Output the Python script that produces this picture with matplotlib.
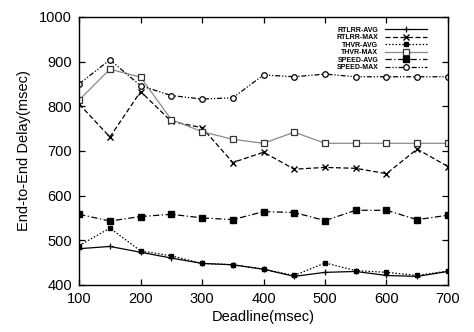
import matplotlib
matplotlib.use("Agg")
import matplotlib.pyplot as plt

plt.rcParams['font.family'] = ['Liberation Sans', 'DejaVu Sans']

deadline = [100, 150, 200, 250, 300, 350, 400, 450, 500, 550, 600, 650, 700]
rtlrr_avg = [481, 486, 473, 460, 448, 445, 435, 419, 428, 430, 421, 419, 430]
rtlrr_max = [805, 731, 833, 766, 752, 674, 697, 659, 663, 661, 649, 704, 665]
thvr_avg = [488, 527, 476, 465, 448, 445, 435, 421, 449, 432, 428, 421, 431]
thvr_max = [814, 883, 865, 770, 743, 726, 717, 742, 717, 717, 717, 717, 717]
speed_avg = [558, 543, 553, 558, 550, 546, 564, 562, 544, 567, 567, 546, 556]
speed_max = [850, 904, 846, 824, 816, 819, 870, 866, 872, 866, 866, 866, 866]

x_ticks = [100, 200, 300, 400, 500, 600, 700]
y_ticks = [400, 500, 600, 700, 800, 900, 1000]

fig = plt.figure(figsize=(4.74, 3.32), dpi=100)
ax = fig.add_axes([0.167, 0.142, 0.778, 0.807])

lw = 0.9
ax.plot(deadline, rtlrr_avg, color='black', ls='-', lw=lw, marker='+', ms=4.5, mew=0.9, label='RTLRR-AVG')
ax.plot(deadline, rtlrr_max, color='black', ls=(0, (4, 2)), lw=lw, marker='x', ms=4, mew=1.0, label='RTLRR-MAX')
ax.plot(deadline, thvr_avg, color='black', ls=(0, (1.2, 1.5)), lw=lw, marker='s', ms=3.2, mfc='black', label='THVR-AVG')
ax.plot(deadline, thvr_max, color='#8a8a8a', ls='-', lw=lw, marker='s', ms=4.3, mfc='white', mec='#333333', mew=0.9, label='THVR-MAX')
ax.plot(deadline, speed_avg, color='black', ls=(0, (5, 2, 1, 2)), lw=lw, marker='s', ms=4, mfc='black', label='SPEED-AVG')
ax.plot(deadline, speed_max, color='black', ls=(0, (4, 1.5, 1, 1.5, 1, 1.5)), lw=lw, marker='o', ms=4, mfc='white', mew=0.9, label='SPEED-MAX')

ax.set_xlim(100, 700)
ax.set_ylim(400, 1000)
ax.set_xticks(x_ticks)
ax.set_yticks(y_ticks)
ax.tick_params(direction='in', top=True, right=True, length=4, width=0.9, labelsize=10.5, pad=5)
for s in ax.spines.values():
    s.set_linewidth(1.0)

ax.set_xlabel('Deadline(msec)', fontsize=10.5, labelpad=3)
ax.set_ylabel('End-to-End Delay(msec)', fontsize=10.5, labelpad=6)

leg = ax.legend(loc='upper right', bbox_to_anchor=(0.958, 0.985), frameon=False, markerfirst=False,
                prop={'size': 5, 'weight': 'bold'}, handlelength=6.0, labelspacing=0.08,
                handletextpad=1.0, borderpad=0.3)

fig.savefig('out.png', dpi=100)
